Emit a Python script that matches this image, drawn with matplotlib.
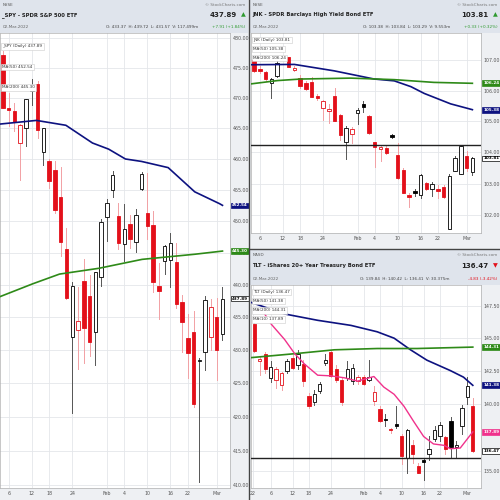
import matplotlib
matplotlib.use("Agg")
import matplotlib.pyplot as plt
from matplotlib.patches import Rectangle
from matplotlib.ticker import FixedLocator, NullLocator, FixedFormatter

# trading-day index: 0 = 3-Jan-2022 ... 40 = 2-Mar-2022
date_ticks = [3, 7, 10, 14, 20, 23, 27, 31, 34, 39]
date_labels = ["6", "12", "18", "24", "Feb", "4", "10", "16", "22", "Mar"]

# ---- SPY ----
spy_idx = list(range(2, 41))
spy_prev = 477.55
spy_o = [477.2, 468.3, 467.9, 462.6, 465.0, 471.7, 472.4, 461.1, 459.6, 458.2, 453.8, 445.7, 432.0, 433.1, 440.7,
         438.3, 432.7, 441.2, 450.7, 455.0, 450.9, 446.35, 449.5, 446.7, 455.2, 451.3, 449.4, 439.9, 443.7, 443.9,
         443.6, 437.3, 431.9, 432.7, 428.3, 429.7, 432.0, 435.1, 432.4]
spy_h = [477.9, 470.8, 469.2, 465.7, 469.9, 473.2, 472.9, 465.1, 459.96, 459.6, 458.7, 448.9, 440.4, 439.7, 444.0,
         441.6, 442.0, 450.3, 453.6, 458.1, 452.97, 452.8, 450.99, 451.9, 457.9, 457.7, 451.6, 443.5, 446.3, 448.1,
         446.6, 438.5, 435.5, 436.0, 428.8, 438.3, 437.9, 438.0, 439.72]
spy_l = [468.3, 465.4, 464.5, 456.6, 462.1, 468.9, 463.4, 459.1, 455.3, 451.3, 444.5, 437.9, 420.6, 427.1, 428.0,
         429.1, 427.8, 439.8, 446.9, 453.8, 445.7, 443.8, 445.85, 445.2, 455.0, 447.2, 438.9, 434.8, 441.7, 439.7,
         436.5, 429.7, 425.8, 421.4, 410.5, 427.0, 430.0, 425.5, 431.57]
spy_c = [468.4, 468.0, 466.1, 465.5, 469.8, 471.1, 464.7, 465.0, 456.5, 451.75, 446.75, 438.0, 439.84, 434.47, 433.38,
         431.24, 441.95, 449.91, 452.95, 457.35, 446.6, 448.7, 447.26, 450.94, 457.54, 449.32, 440.46, 439.02, 446.1,
         446.6, 437.06, 434.23, 429.57, 421.95, 428.3, 437.75, 436.63, 429.98, 437.89]
spy_ma50_x = [1.5, 7.8, 12.9, 17.5, 20.3, 23.2, 26.0, 30.6, 35.2, 39.5, 40.0]
spy_ma50_y = [465.7, 466.3, 465.5, 462.6, 461.6, 460.0, 459.6, 458.6, 454.7, 452.8, 452.54]
spy_ma200_x = [1.5, 7.2, 11.8, 18.6, 26.1, 35.2, 40.0]
spy_ma200_y = [438.2, 440.2, 441.7, 442.6, 444.0, 444.8, 445.3]
spy_ticks = [410, 415, 420, 425, 430, 435, 440, 445, 450, 455, 460, 465, 470, 475, 480]

# ---- JNK ----
jnk_idx = list(range(2, 41))
jnk_prev = 107.2
jnk_o = [107.0, 106.7, 106.62, 106.24, 106.47, 107.13, 107.1, 106.69, 106.4, 106.24, 106.27, 105.84, 105.43, 105.35,
         105.84, 105.22, 104.35, 104.6, 105.26, 105.57, 105.16, 104.32, 104.1, 104.15, 104.52, 103.91, 103.45, 102.66,
         102.77, 102.65, 103.03, 102.82, 102.83, 102.9, 101.58, 103.41, 103.3, 103.88, 103.38]
jnk_h = [107.1, 106.8, 106.65, 106.4, 106.96, 107.15, 107.12, 106.8, 106.5, 106.3, 106.45, 105.9, 105.7, 105.55, 106.1,
         105.25, 104.85, 104.82, 105.45, 105.65, 105.2, 104.35, 104.22, 104.2, 104.6, 104.3, 103.5, 102.7, 102.85, 103.3,
         103.05, 103.05, 102.95, 102.95, 103.3, 103.9, 104.2, 104.05, 103.84]
jnk_l = [106.6, 106.57, 106.33, 105.76, 106.45, 107.05, 106.77, 106.65, 106.1, 106.02, 105.78, 105.7, 105.05, 104.95,
         105.0, 104.4, 103.8, 104.3, 104.9, 105.3, 104.6, 103.55, 103.73, 103.95, 104.45, 103.15, 102.7, 102.28, 102.62,
         102.55, 102.8, 102.6, 102.55, 102.55, 101.57, 103.4, 103.3, 103.4, 103.29]
jnk_c = [106.65, 106.63, 106.37, 106.38, 106.9, 107.08, 106.78, 106.74, 106.14, 106.05, 105.8, 105.76, 105.67, 105.4,
         105.02, 104.57, 104.8, 104.77, 105.37, 105.46, 104.64, 104.18, 104.16, 103.97, 104.5, 103.17, 102.72, 102.58,
         102.7, 103.28, 102.83, 102.98, 102.76, 102.58, 103.25, 103.82, 104.2, 103.5, 103.81]
jnk_ma50_x = [1.4, 9.0, 15.9, 22.9, 26.4, 29.3, 31.6, 36.2, 40.0]
jnk_ma50_y = [106.85, 106.86, 106.65, 106.38, 106.32, 106.13, 105.91, 105.57, 105.38]
jnk_ma200_x = [1.4, 6.1, 10.1, 18.8, 26.4, 33.3, 40.0]
jnk_ma200_y = [106.22, 106.33, 106.38, 106.41, 106.36, 106.27, 106.24]
jnk_level = 104.24
jnk_ticks = [102, 103, 104, 105, 106, 107]

# ---- TLT ----
tlt_idx = list(range(0, 41))
tlt_prev = 148.2
tlt_o = [146.1, 143.2, 143.8, 141.9, 141.8, 141.4, 142.5, 143.5, 142.9, 143.0, 140.6, 140.1, 140.95, 143.1, 143.9,
         142.6, 141.8, 141.9, 141.7, 141.7, 142.0, 141.75, 140.2, 139.6, 138.85, 138.1, 138.5, 137.6, 136.0, 136.9,
         135.4, 135.85, 136.3, 137.4, 137.6, 137.5, 138.7, 136.75, 138.3, 140.5, 139.84]
tlt_h = [146.2, 143.6, 143.9, 143.2, 142.8, 142.4, 143.4, 143.7, 144.1, 143.3, 140.8, 141.0, 141.6, 143.8, 144.0,
         142.9, 142.0, 143.2, 143.0, 142.2, 142.2, 143.3, 141.3, 139.8, 139.2, 138.2, 139.8, 137.7, 138.1, 137.3,
         135.6, 135.9, 137.6, 138.3, 138.6, 137.6, 139.0, 137.2, 139.9, 142.0, 140.42]
tlt_l = [143.9, 142.2, 142.3, 141.6, 141.2, 141.0, 142.3, 142.6, 142.6, 141.3, 139.7, 139.9, 140.8, 142.9, 142.0,
         141.6, 139.9, 141.8, 141.5, 141.5, 141.4, 141.7, 139.9, 138.6, 138.3, 137.8, 138.2, 135.5, 134.9, 135.6,
         134.85, 134.4, 135.8, 137.2, 137.2, 136.3, 136.0, 136.0, 137.7, 140.0, 136.41]
tlt_c = [144.0, 143.4, 142.6, 142.8, 142.6, 142.3, 143.2, 142.7, 143.8, 141.7, 139.8, 140.7, 141.5, 143.3, 142.1,
         141.8, 140.1, 142.6, 142.7, 142.0, 141.5, 142.0, 140.9, 138.7, 138.75, 138.0, 138.3, 136.1, 138.0, 136.3,
         134.9, 135.7, 136.6, 138.05, 138.4, 136.6, 136.8, 136.9, 139.7, 141.3, 136.47]
tlt_ma50_x = [-0.5, 5.55, 11.6, 17.7, 22.5, 25.6, 28.6, 31.6, 35.9, 38.3, 40.0]
tlt_ma50_y = [147.8, 146.9, 146.4, 146.0, 145.5, 145.0, 144.1, 143.3, 142.5, 142.0, 141.38]
tlt_ma200_x = [-0.5, 7.4, 14.65, 22.5, 29.8, 40.0]
tlt_ma200_y = [143.5, 143.8, 144.1, 144.2, 144.2, 144.31]
tlt_ma10_x = [1.9, 3.1, 5.55, 7.4, 9.2, 11.6, 14.0, 16.5, 18.9, 21.9, 23.7, 25.6, 27.4, 29.2, 31.0, 32.8, 34.7, 35.9,
              37.7, 40.0]
tlt_ma10_y = [146.9, 146.1, 144.9, 143.8, 143.0, 142.15, 142.1, 141.95, 141.7, 142.05, 141.25, 140.7, 139.8, 138.65,
              137.55, 137.0, 136.9, 136.65, 136.7, 137.89]
tlt_level = 136.0
tlt_ticks = [135.0, 140.0, 142.5, 145.0, 147.5]

RED = "#e3101a"
PINK_WICK = "#f2a0a4"
NAVY = "#0d1280"
GREEN = "#2e8a18"
MAGENTA = "#f0328c"
HEAD_BG = "#dfe4ec"

fig = plt.figure(figsize=(5, 5), dpi=100)
fig.patch.set_facecolor("#eef0f3")


def px(x0, y0, x1, y1):
    return [x0 / 500, 1 - y1 / 500, (x1 - x0) / 500, (y1 - y0) / 500]


def candles(ax, idx, o, h, l, c, prev):
    for i, oo, hh, ll, cc in zip(idx, o, h, l, c):
        col = RED if cc < prev else "black"
        wick = PINK_WICK if col == RED else "#555555"
        ax.plot([i, i], [ll, hh], color=wick, lw=0.7, zorder=3)
        face = col if cc < oo else "white"
        lo, hi = min(oo, cc), max(oo, cc)
        ax.add_patch(Rectangle((i - 0.3, lo), 0.6, max(hi - lo, 0.0005 * hi), facecolor=face,
                               edgecolor=col, lw=0.6, zorder=4))
        prev = cc


def style_plot(ax, ylim, yticks, xlim, xt, xl, fmt="%.2f"):
    ax.set_yscale("log")
    ax.set_ylim(*ylim)
    ax.set_xlim(*xlim)
    ax.yaxis.set_major_locator(FixedLocator(yticks))
    ax.yaxis.set_minor_locator(NullLocator())
    ax.yaxis.set_major_formatter(FixedFormatter([fmt % t for t in yticks]))
    ax.yaxis.tick_right()
    ax.set_xticks(xt)
    ax.set_xticklabels(xl)
    ax.tick_params(labelsize=3.4, length=0, pad=2, colors="#555555")
    ax.grid(True, color="#e4e6ea", lw=0.6)
    ax.set_axisbelow(True)
    for s in ax.spines.values():
        s.set_color("#b0b0b0")
        s.set_linewidth(0.5)


def tag(ax, y, text, bg, fg="white"):
    ax.annotate(text, xy=(1.0, y), xycoords=("axes fraction", "data"), xytext=(1.5, 0),
                textcoords="offset points", fontsize=3.0, color=fg, va="center", ha="left",
                fontweight="bold", bbox=dict(boxstyle="square,pad=0.2", fc=bg, ec=bg if bg != "white" else "black",
                                             lw=0.5), zorder=10, annotation_clip=False)


def legend(ax, lines):
    for k, (name, val, col) in enumerate(lines):
        ax.text(0.01, 0.975 - k * 0.045, name + " " + val, transform=ax.transAxes, fontsize=3.0,
                color="#333333", va="top", ha="left",
                bbox=dict(boxstyle="square,pad=0.3", fc="white", ec="#cccccc", lw=0.4), zorder=9)


def header(rect, exch, title, price, up, ohlc, change):
    ax = fig.add_axes(rect)
    ax.set_facecolor(HEAD_BG)
    ax.set_xticks([])
    ax.set_yticks([])
    for s in ax.spines.values():
        s.set_visible(False)
    ax.text(0.01, 0.9, exch, fontsize=3.0, color="#555555", va="top", transform=ax.transAxes)
    ax.text(0.99, 0.9, "© StockCharts.com", fontsize=3.0, color="#777777", va="top", ha="right",
            transform=ax.transAxes)
    ax.text(0.01, 0.55, title + " ", fontsize=3.8, fontweight="bold", color="#222222", va="center",
            transform=ax.transAxes)
    ax.text(0.955, 0.55, price, fontsize=5, fontweight="bold", color="#222222", va="center", ha="right",
            transform=ax.transAxes)
    ax.text(0.99, 0.55, "▲" if up else "▼", fontsize=4.5, color="#2e9a2e" if up else RED, va="center",
            ha="right", transform=ax.transAxes)
    ax.text(0.01, 0.18, "02-Mar-2022", fontsize=3.0, color="#666666", va="center", transform=ax.transAxes)
    ax.text(0.8, 0.18, ohlc, fontsize=3.0, color="#444444", va="center", ha="right", transform=ax.transAxes)
    ax.text(0.99, 0.18, change, fontsize=3.0, color="#2e9a2e" if up else RED, va="center", ha="right",
            transform=ax.transAxes)


# SPY panel
header(px(0, 0, 248, 33), "NYSE", "_SPY - SPDR S&P 500 ETF", "437.89", True,
       "O: 433.37  H: 439.72  L: 431.57  V: 117.499m", "+7.91 (+1.84%)")
ax1 = fig.add_axes(px(0, 33, 230, 488))
candles(ax1, spy_idx, spy_o, spy_h, spy_l, spy_c, spy_prev)
ax1.plot(spy_ma50_x, spy_ma50_y, color=NAVY, lw=1.2, zorder=5)
ax1.plot(spy_ma200_x, spy_ma200_y, color=GREEN, lw=1.2, zorder=5)
style_plot(ax1, (409.6, 480.9), spy_ticks, (1.5, 41.3), date_ticks, date_labels)
tag(ax1, spy_ma50_y[-1], "452.54", NAVY)
tag(ax1, spy_ma200_y[-1], "445.30", GREEN)
tag(ax1, spy_c[-1], "437.89", "white", "black")
legend(ax1, [("_SPY (Daily)", "437.89", "k"), ("MA(50)", "452.54", NAVY), ("MA(200)", "445.30", GREEN)])

# JNK panel
header(px(250, 0, 500, 33), "NYSE", "JNK - SPDR Barclays High Yield Bond ETF", "103.81", True,
       "O: 103.38  H: 103.84  L: 103.29  V: 9.553m", "+0.33 (+0.32%)")
ax2 = fig.add_axes(px(251, 33, 481, 233))
candles(ax2, jnk_idx, jnk_o, jnk_h, jnk_l, jnk_c, jnk_prev)
ax2.plot(jnk_ma50_x, jnk_ma50_y, color=NAVY, lw=1.2, zorder=5)
ax2.plot(jnk_ma200_x, jnk_ma200_y, color=GREEN, lw=1.2, zorder=5)
ax2.axhline(jnk_level, color="#222222", lw=1.0, zorder=6)
style_plot(ax2, (101.45, 107.9), jnk_ticks, (1.45, 41.5), date_ticks, date_labels)
tag(ax2, jnk_ma200_y[-1], "106.24", GREEN)
tag(ax2, jnk_ma50_y[-1], "105.38", NAVY)
tag(ax2, jnk_c[-1], "103.81", "white", "black")
legend(ax2, [("JNK (Daily)", "103.81", "k"), ("MA(50)", "105.38", NAVY), ("MA(200)", "106.24", GREEN)])

# TLT panel
header(px(250, 250, 500, 285), "NASD", "TLT - iShares 20+ Year Treasury Bond ETF", "136.47", False,
       "O: 139.84  H: 140.42  L: 136.41  V: 30.375m", "-4.83 (-3.42%)")
ax3 = fig.add_axes(px(251, 285, 481, 488))
candles(ax3, tlt_idx, tlt_o, tlt_h, tlt_l, tlt_c, tlt_prev)
ax3.plot(tlt_ma50_x, tlt_ma50_y, color=NAVY, lw=1.2, zorder=5)
ax3.plot(tlt_ma200_x, tlt_ma200_y, color=GREEN, lw=1.2, zorder=5)
ax3.plot(tlt_ma10_x, tlt_ma10_y, color=MAGENTA, lw=1.0, zorder=5)
ax3.axhline(tlt_level, color="#222222", lw=1.0, zorder=6)
style_plot(ax3, (133.8, 149.2), tlt_ticks, (-0.6, 41.5), [-0.3] + date_ticks, ["22"] + date_labels)
tag(ax3, tlt_ma200_y[-1], "144.31", GREEN)
tag(ax3, tlt_ma50_y[-1], "141.38", NAVY)
tag(ax3, tlt_ma10_y[-1], "137.89", MAGENTA)
tag(ax3, tlt_c[-1], "136.47", "white", "black")
legend(ax3, [("TLT (Daily)", "136.47", "k"), ("MA(50)", "141.38", NAVY), ("MA(200)", "144.31", GREEN),
             ("MA(10)", "137.89", MAGENTA)])

fig.add_artist(plt.Line2D([249 / 500, 249 / 500], [0, 1], color="#444444", lw=1.0))
fig.add_artist(plt.Line2D([250 / 500, 1], [1 - 248.5 / 500, 1 - 248.5 / 500], color="#444444", lw=1.0))

fig.savefig("out.png", dpi=100, facecolor=fig.get_facecolor())
